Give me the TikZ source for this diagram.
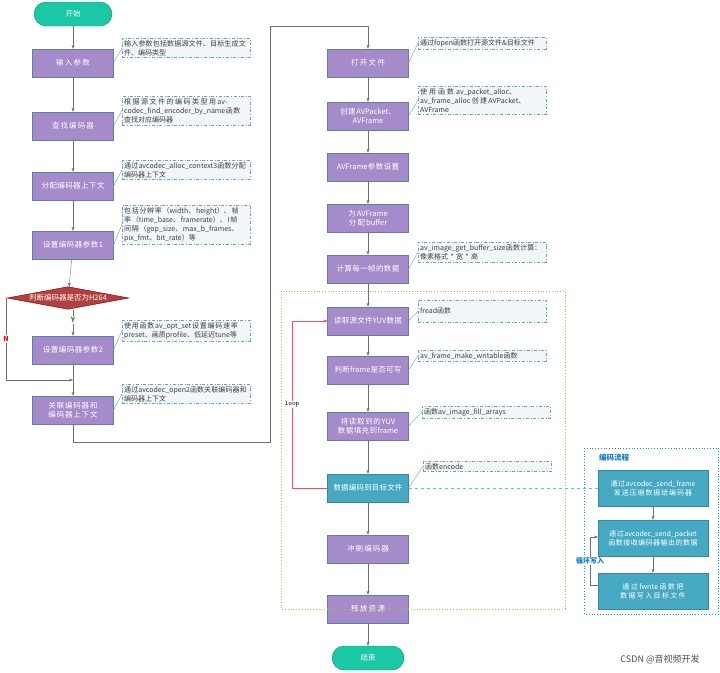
\documentclass[tikz,border=0pt]{standalone}
\usepackage{fontspec}
\setmainfont{Noto Sans CJK SC}
\XeTeXlinebreaklocale "zh"
\XeTeXlinebreakskip = 0pt plus 1pt
\usetikzlibrary{shapes.geometric,arrows.meta}
\definecolor{boxfill}{HTML}{A68BCA}
\definecolor{boxline}{HTML}{5E7FA6}
\definecolor{startfill}{HTML}{1BC8A6}
\definecolor{encfill}{HTML}{46A9C4}
\definecolor{notefill}{HTML}{F1F6F8}
\definecolor{noteline}{HTML}{6FA1B0}
\definecolor{lineg}{HTML}{707070}
\tikzset{
  stepbox/.style={draw=boxline, fill=boxfill, text=white, minimum width=78pt, minimum height=28pt, align=center, font=\fontsize{7.5}{9}\selectfont, text width=74pt},
  enc/.style={stepbox, fill=encfill, draw=encfill!80!black},
  term/.style={draw=startfill!70!black, fill=startfill, text=white, rounded corners=12pt, minimum width=78pt, minimum height=24pt, font=\fontsize{7.5}{9}\selectfont},
  note/.style={draw=noteline, dash dot, fill=notefill, anchor=north west, inner sep=2pt, text width=124pt, align=left, font=\fontsize{7}{9}\selectfont, text=black!75},
  sub/.style={fill=encfill, draw=encfill!80!black, text=white, minimum width=105pt, minimum height=36pt, text width=103pt, align=center, font=\fontsize{7}{9}\selectfont},
  flow/.style={draw=lineg, -{Stealth[length=4pt]}},
  tie/.style={draw=noteline, thin}
}
\begin{document}
\begin{tikzpicture}[x=1pt,y=-1pt]
\useasboundingbox (0,0) rectangle (720,672);

% left column
\node [term] (start) at (73,14) {开始};
\node [stepbox] (input) at (73,63) {输入参数};
\node [stepbox] (find) at (73,126) {查找编码器};
\node [stepbox] (ctx) at (73,186) {分配编码器上下文};
\node [stepbox] (par1) at (73,245) {设置编码器参数1};
\node [diamond, aspect=5.4, fill=red!60!black!75, draw=red!50!black, text=white, inner sep=0.5pt, font=\fontsize{7.5}{9}\selectfont] (isH) at (68,298) {判断编码器是否为H264};
\node [stepbox] (par2) at (73,350) {设置编码器参数2};
\node [stepbox] (open2) at (73,410) {关联编码器和编码器上下文};

\node [note] (n1) at (122,38) {输入参数包括数据源文件、目标生成文件、编码类型};
\node [note] (n2) at (122,96) {根据源文件的编码类型用avcodec\_find\_encoder\_by\_name函数查找对应编码器};
\node [note] (n3) at (122,160) {通过avcodec\_alloc\_context3函数分配编码器上下文};
\node [note] (n4) at (122,205) {包括分辨率（width、height）、帧率（time\_base、framerate）、I帧间隔（gop\_size、max\_b\_frames、pix\_fmt、bit\_rate）等};
\node [note] (n5) at (122,320) {使用函数av\_opt\_set设置编码速率preset、画质profile、低延迟tune等};
\node [note] (n6) at (122,384) {通过avcodec\_open2函数关联编码器和编码器上下文};

\draw [flow] (start) -- (input);
\draw [flow] (input) -- (find);
\draw [flow] (find) -- (ctx);
\draw [flow] (ctx) -- (par1);
\draw [flow] (par1) -- (isH);
\draw [flow] (isH.south -| par2) -- node [pos=0.4, fill=white, inner sep=1pt, text=green!60!black, font=\bfseries\fontsize{7}{8}\selectfont] {Y} (par2);
\draw [flow] (isH.west) -- (6,298) -- node [fill=white, inner sep=1pt, text=red, font=\bfseries\fontsize{7}{8}\selectfont] {N} (6,380) -- (73,380);
\draw [flow] (par2) -- (open2);

\draw [tie] (input.east) -- (n1.west);
\draw [tie] (find.east) -- (n2.west);
\draw [tie] (ctx.east) -- (n3.west);
\draw [tie] (par1.east) -- (n4.west);
\draw [tie] (par2.east) -- (n5.west);
\draw [tie] (open2.east) -- (n6.west);

% middle column
\node [stepbox] (fopen) at (368,63) {打开文件};
\node [stepbox] (alloc) at (368,116) {创建AVPacket、AVFrame};
\node [stepbox] (fset) at (368,167) {AVFrame参数设置};
\node [stepbox] (fbuf) at (368,218) {为AVFrame分配buffer};
\node [stepbox] (size) at (368,269) {计算每一帧的数据};
\node [stepbox] (read) at (368,321) {读取源文件YUV数据};
\node [stepbox] (wr) at (368,370) {判断frame是否可写};
\node [stepbox] (fill) at (368,426) {将读取到的YUV数据填充到frame};
\node [enc] (code) at (368,488) {数据编码到目标文件};
\node [stepbox] (flush) at (368,549) {冲刷编码器};
\node [stepbox] (free) at (368,609) {释放资源};
\node [term, minimum width=72pt] (end) at (368,658) {结束};

\node [note] (m1) at (418,37) {通过fopen函数打开源文件\&目标文件};
\node [note] (m2) at (418,86) {使用函数av\_packet\_alloc、av\_frame\_alloc创建AVPacket、AVFrame};
\node [note] (m3) at (418,242) {av\_image\_get\_buffer\_size函数计算：像素格式 * 宽 * 高};
\node [note, minimum height=22pt] (m4) at (418,300) {fread函数};
\node [note] (m5) at (418,350) {av\_frame\_make\_writable函数};
\node [note] (m6) at (422,406) {函数av\_image\_fill\_arrays};
\node [note] (m7) at (423,461) {函数encode};

\draw [flow] (open2) -- (73,442) -- (270,442) -- (270,26) -- (368,26) -- (fopen);
\draw [flow] (fopen) -- (alloc);
\draw [flow] (alloc) -- (fset);
\draw [flow] (fset) -- (fbuf);
\draw [flow] (fbuf) -- (size);
\draw [flow] (size) -- (read);
\draw [flow] (read) -- (wr);
\draw [flow] (wr) -- (fill);
\draw [flow] (fill) -- (code);
\draw [flow] (code) -- (flush);
\draw [flow] (flush) -- (free);
\draw [flow] (free) -- (end);
\draw [red!70, -{Stealth[length=4pt]}] (code.west) -- (292,488) -- node [fill=white, inner sep=1pt, text=black, font=\ttfamily\fontsize{7}{8}\selectfont] {loop} (292,321) -- (read.west);

\draw [tie] (fopen.east) -- (m1.west);
\draw [tie] (alloc.east) -- (m2.west);
\draw [tie] (size.east) -- (m3.west);
\draw [tie] (read.east) -- (m4.west);
\draw [tie] (wr.east) -- (m5.west);
\draw [tie] (fill.east) -- (m6.west);
\draw [tie] (code.east) -- (m7.west);

\draw [olive!60, dotted, thick] (281,291) rectangle (565,609);

% encoding detail
\draw [cyan!80!blue, dotted, thick] (584,448) rectangle (718,614);
\node [text=cyan!60!blue, font=\bfseries\fontsize{7.5}{9}\selectfont] (title) at (614,458) {编码流程};
\node [sub] (send) at (653,488) {通过avcodec\_send\_frame发送压缩数据给编码器};
\node [sub] (recv) at (653,538) {通过avcodec\_send\_packet函数接收编码器输出的数据};
\node [sub] (fw) at (653,591) {通过fwrite函数把数据写入目标文件};
\draw [flow] (send) -- (recv);
\draw [flow] (recv) -- (fw);
\draw [lineg, -{Stealth[length=4pt]}] (fw.west |- 0,585) -- (590,585) -- node [pos=0.5, fill=white, inner sep=1pt, text=cyan!60!blue, font=\bfseries\fontsize{7}{8}\selectfont] {循环写入} (590,537) -- (recv.west |- 0,537);
\draw [cyan!70, dashed] (code.east) -- (send.west);

\node [text=black!70, font=\fontsize{9}{10}\selectfont] (csdn) at (660,659) {CSDN @音视频开发};
\end{tikzpicture}
\end{document}
